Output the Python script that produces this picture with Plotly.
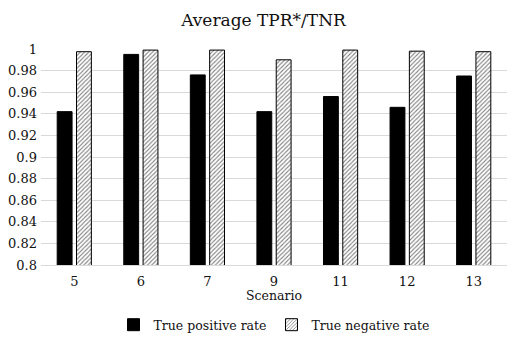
import plotly.graph_objects as go

scenarios = ["5", "6", "7", "9", "11", "12", "13"]
tpr = [0.942, 0.995, 0.976, 0.942, 0.956, 0.946, 0.975]
tnr = [0.9975, 0.999, 0.999, 0.990, 0.999, 0.998, 0.9975]

FONT = "DejaVu Serif"

fig = go.Figure()
fig.add_trace(go.Bar(
    x=scenarios, y=tpr, name="True positive rate",
    marker=dict(color="black", line=dict(color="black", width=1)),
))
fig.add_trace(go.Bar(
    x=scenarios, y=tnr, name="True negative rate",
    marker=dict(color="white", line=dict(color="black", width=1),
                pattern=dict(shape="/", fgcolor="black", bgcolor="white",
                             size=3, solidity=0.35)),
))

# page body has an 8px margin, so the figure is drawn 8px smaller
fig.update_layout(
    width=511, height=332,
    margin=dict(l=33, r=12, t=41, b=75, autoexpand=False),
    paper_bgcolor="white", plot_bgcolor="white",
    font=dict(family=FONT, size=13, color="#111"),
    title=dict(text="Average TPR*/TNR", x=0.5, xanchor="center",
               y=0.964, yanchor="middle", font=dict(size=17, color="#111")),
    barmode="group", bargap=0.42, bargroupgap=0.23,
    showlegend=True,
    legend=dict(orientation="h", x=0.5, xanchor="center", y=-0.278,
                yanchor="middle", font=dict(size=12.5), itemwidth=30,
                traceorder="normal"),
)
fig.update_yaxes(range=[0.8, 1.0], dtick=0.02, showgrid=True,
                 gridcolor="#d9d9d9", gridwidth=1, zeroline=False,
                 showline=False, ticks="", tickformat="~g",
                 ticklabelstandoff=3)
fig.update_xaxes(showline=True, linecolor="#d9d9d9", linewidth=1, ticks="",
                 showgrid=False, ticklabelstandoff=4)
fig.add_annotation(text="Scenario", x=0.5, xref="paper", y=-0.142, yref="paper",
                   yanchor="middle", showarrow=False,
                   font=dict(size=12.5, color="#111"))

fig.write_html("out.html")
